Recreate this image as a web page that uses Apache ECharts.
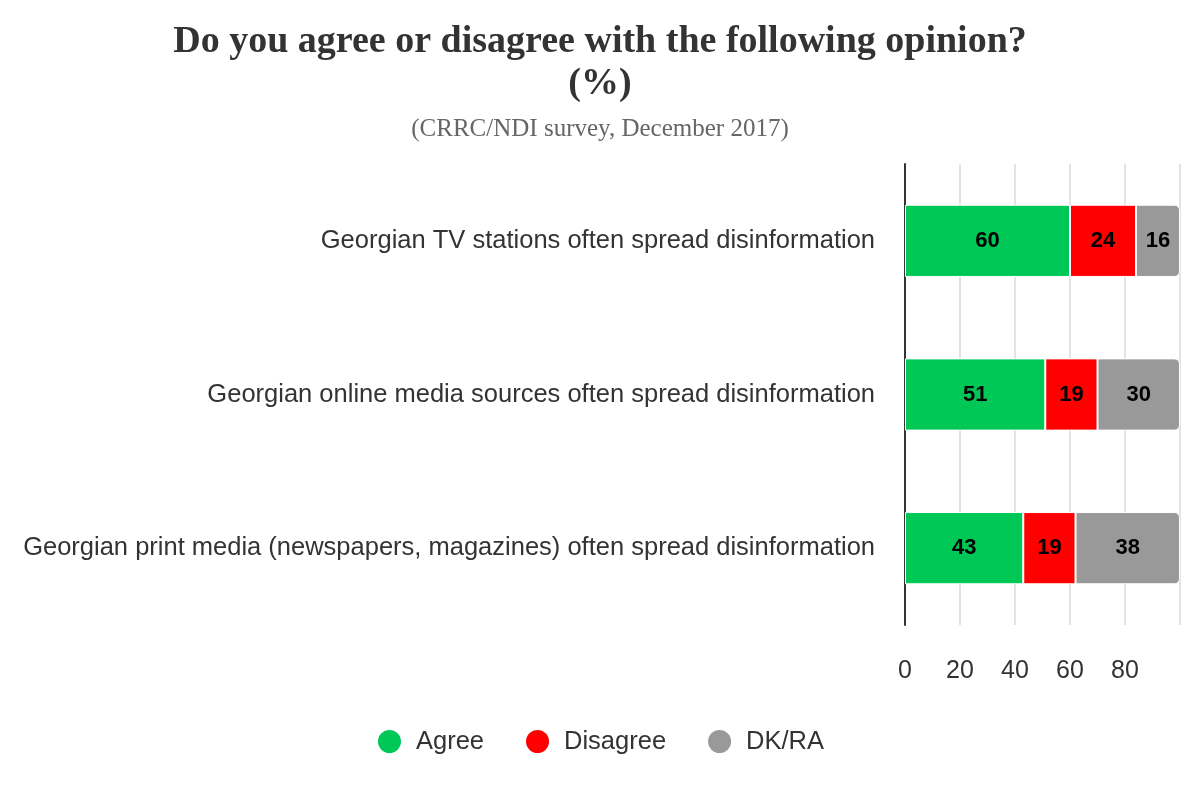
<!DOCTYPE html>
<html>
<head>
<meta charset="utf-8">
<script src="https://cdn.jsdelivr.net/npm/echarts@6/dist/echarts.min.js"></script>
<style>
  html, body { margin: 0; padding: 0; background: #fff; }
  #chart { width: 1200px; height: 800px; }
</style>
</head>
<body>
<div id="chart"></div>
<script>
var categories = [
  'Georgian print media (newspapers, magazines) often spread disinformation',
  'Georgian online media sources often spread disinformation',
  'Georgian TV stations often spread disinformation'
];
var agreeValues = [43, 51, 60];
var disagreeValues = [19, 19, 24];
var dkraValues = [38, 30, 16];

var chart = echarts.init(document.getElementById('chart'));

function makeSeries(name, data, color, isLast) {
  return {
    name: name,
    type: 'bar',
    stack: 'total',
    data: data,
    barWidth: '47%',
    itemStyle: {
      color: color,
      borderColor: '#fff',
      borderWidth: 1,
      borderRadius: isLast ? [0, 5, 5, 0] : 0
    },
    label: {
      show: true,
      position: 'inside',
      color: '#000',
      fontWeight: 'bold',
      fontSize: 22,
      fontFamily: 'Liberation Sans, Arial, sans-serif'
    }
  };
}

var option = {
  backgroundColor: '#fff',
  title: {
    text: 'Do you agree or disagree with the following opinion?\n(%)',
    subtext: '(CRRC/NDI survey, December 2017)',
    left: 'center',
    top: 16,
    itemGap: 12,
    textStyle: {
      fontFamily: 'Liberation Serif, Times New Roman, serif',
      fontWeight: 'bold',
      fontSize: 38,
      lineHeight: 42,
      color: '#333'
    },
    subtextStyle: {
      fontFamily: 'Liberation Serif, Times New Roman, serif',
      fontSize: 25,
      color: '#666'
    }
  },
  legend: {
    bottom: 40,
    left: 'center',
    icon: 'circle',
    itemWidth: 25,
    itemHeight: 25,
    itemGap: 40,
    textStyle: {
      fontSize: 25.5,
      color: '#333',
      padding: [0, 0, 0, 9],
      fontFamily: 'Liberation Sans, Arial, sans-serif'
    },
    data: ['Agree', 'Disagree', 'DK/RA']
  },
  grid: {
    left: 905,
    right: 20,
    top: 164,
    bottom: 175
  },
  xAxis: {
    type: 'value',
    min: 0,
    max: 100,
    interval: 20,
    axisLine: { show: false },
    axisTick: { show: false },
    splitLine: { lineStyle: { color: '#e3e3e3', width: 2 } },
    axisLabel: {
      showMaxLabel: false,
      margin: 34,
      fontSize: 25,
      color: '#333',
      fontFamily: 'Liberation Sans, Arial, sans-serif'
    }
  },
  yAxis: {
    type: 'category',
    data: categories,
    axisLine: { show: true, lineStyle: { color: '#333', width: 2 } },
    axisTick: { show: false },
    axisLabel: {
      margin: 30,
      fontSize: 25.5,
      color: '#333',
      fontFamily: 'Liberation Sans, Arial, sans-serif'
    }
  },
  series: [
    makeSeries('Agree', agreeValues, '#00c857', false),
    makeSeries('Disagree', disagreeValues, '#ff0000', false),
    makeSeries('DK/RA', dkraValues, '#999999', true)
  ]
};

chart.setOption(option);
</script>
</body>
</html>
